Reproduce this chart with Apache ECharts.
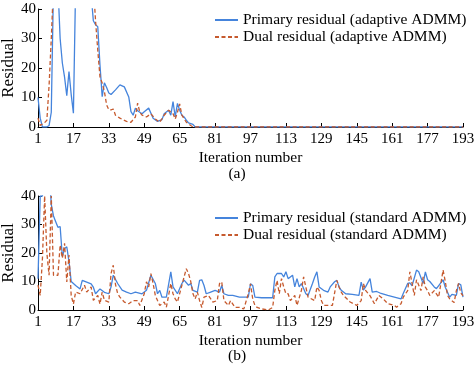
<!DOCTYPE html>
<html><head><meta charset="utf-8">
<script src="https://cdn.jsdelivr.net/npm/echarts@6/dist/echarts.min.js"></script>
<style>html,body{margin:0;padding:0;background:#fff}#c{width:474px;height:366px}</style>
</head><body><div id="c"></div>
<script>
// x-axis tick labels (iteration numbers)
const xTicks = [1,17,33,49,65,81,97,113,129,145,161,177,193];
const yTicks = [0,10,20,30,40];

// (a) adaptive ADMM
const adaptPrimIter = [1,2,3,4,5,6,7,8,10,11,12,13,14,15,16,17,18,25,26,27,28,29,30,31,32,33,34,36,38,40,42,43,44,45,46,48,49,51,53,55,57,58,60,61,62,63,64,65,66,67,68,69,71,72,193];
const adaptPrimVal  = [10,3,0,0,0,0.5,5,48,48,30,21.7,16.9,10.6,18.8,11,4.7,48,45,36,34.7,34,21,10.3,15,13.4,11.5,11,12.6,14.3,13.6,10.2,5.2,4,6.4,5.5,4.5,5.2,6.4,3,1.9,2.5,4.5,5.7,4,8.6,3.4,8,5.7,4,3.4,2.3,1.4,0.9,0,0];
const adaptDualIter = [1,2,3,4,5,6,7,8,26,27,28,29,30,31,32,33,34,35,36,38,41,43,45,46,47,48,50,52,54,56,58,60,62,63,64,65,66,68,70,71,193];
const adaptDualVal  = [3,0.5,1,1.5,2.3,14,30,48,48,36,26,17,14.9,12,7.5,5.8,5.8,6.1,4,3,1.9,1.6,3.4,8.1,5,4,3.4,4.5,2.7,1.6,4,5.7,4.5,2.7,5,7.8,4,1.6,0.5,0,0];

// (b) standard ADMM
const stdPrimIter = [1,2,3,4,6,7,8,9,10,11,
  12,13,14,15,16,18,20,21,23,25,
  26,27,29,31,33,34,35,37,39,41,
  43,45,48,50,52,54,55,56,57,59,
  61,62,64,66,67,69,70,71,73,74,
  75,76,77,79,81,83,84,85,87,89,
  92,96,97,98,99,102,107,108,109,111,
  112,113,114,116,117,118,119,120,122,123,
  125,126,127,128,130,132,133,135,136,137,
  138,140,143,146,147,148,149,151,152,154,
  156,159,162,165,166,168,169,170,172,173,
  175,176,177,178,180,181,184,185,187,188,
  190,191,192,193];
const stdPrimVal = [11,40,40,50,50,37,33,31,29,29.3,
  18.7,21.6,22.2,17,10,8.6,7.4,10.4,9.8,9.2,
  8,5.7,7.4,6.2,5.7,8.1,12.2,9.3,7,6.3,
  5.7,6.3,5.7,6.9,12.2,9.3,5.7,6.9,4.5,4.5,
  13.4,8.1,5.7,9.3,10.5,8.7,9.3,6.9,6.3,10.4,
  10.6,8.6,5.7,6.3,6.9,6.3,8.6,5.7,5.1,5.1,
  4.5,4.5,9.2,8.6,4.5,4.3,4.3,11.6,12.8,12.8,
  11.6,13.4,11,12.2,8.1,11,8.1,9.3,5.7,5.1,
  9.3,11.6,13.4,8.1,6.9,6.3,8.1,9.9,10.4,8.1,
  6.9,5.7,5.5,5.1,9.8,7,8.1,11,6.3,6.5,
  5.8,5.1,4.5,3.9,5.8,9.3,9.5,8.5,14,13.4,
  9.3,13.4,10.6,10,8.1,7.5,10.6,8,4.5,5.5,
  5.1,9.3,8.8,4.5];
const stdDualIter = [1,2,3,4,5,6,7,8,10,11,
  12,13,14,15,16,17,18,20,22,23,
  25,26,28,29,30,31,33,34,35,36,
  37,38,40,42,44,46,47,49,50,51,
  52,53,54,55,56,58,59,61,62,63,
  64,67,68,69,70,71,72,73,74,75,
  76,78,80,82,83,84,85,87,88,90,
  92,94,96,97,98,99,100,102,105,107,
  108,109,110,111,112,113,114,115,117,118,
  120,121,122,123,126,127,128,129,130,134,
  136,137,138,139,142,145,147,148,149,151,
  153,155,157,159,162,163,165,166,168,169,
  170,171,172,174,175,176,177,178,180,182,
  184,185,186,187,189,190,191,192,193];
const stdDualVal = [8.7,5.1,18,40,20,12.2,40,12.2,12.2,22.8,
  18.2,23.4,9.8,19.3,5.1,2.1,6.3,5.7,8.7,6.3,
  8.1,3.4,5.1,2.1,6.3,3.4,2.8,12.8,15.7,9,
  5.7,4.5,2.8,2.2,3.3,3.3,1.6,5.7,9.9,8.1,
  12.8,9.3,5.1,3.3,1.6,2.8,1,9.3,5.7,3.9,
  2.8,11.6,14.5,12.8,10,5.7,3.9,6.3,3.3,0.9,
  4.5,5.1,2.8,3.3,9.3,9.9,3.3,1.6,3.3,0.9,
  0.9,0.4,5.7,9.2,3.9,1.6,0.9,0.4,0,0.9,
  6.9,10.4,5.7,11,8.1,5.7,5.7,3.3,5.1,1.6,
  6.9,11.6,8.1,4.5,3.3,8.1,6.9,3.3,1.6,1.6,
  10.4,8.1,6.3,5.1,2.8,1.6,3.3,9.3,6.9,5,
  2.2,5.1,3.9,2.2,1.6,1,2.2,4.5,6.8,13.4,
  9.3,5.1,10.6,6.8,11.6,8,6.8,5.1,6.8,4.5,
  14,10,5.1,3.9,2.6,6.8,9.3,6,5];

const names = {
  ap: 'Primary residual (adaptive ADMM)',
  ad: 'Dual residual (adaptive ADMM)',
  sp: 'Primary residual (standard ADMM)',
  sd: 'Dual residual (standard ADMM)'
};

const FONT = 'Liberation Serif';
const BLUE = '#4584dc';
const RED = '#c65a2e';

function pts(iters, vals) { return iters.map((it, i) => [it - xTicks[0], vals[i]]); }

const xStep = xTicks[1] - xTicks[0];
function xAxis(gi) {
  return {
    gridIndex: gi, type: 'value', min: 0, max: xTicks[xTicks.length - 1] - xTicks[0], interval: xStep,
    name: 'Iteration number', nameLocation: 'middle', nameGap: 23, nameMoveOverlap: false,
    nameTextStyle: { fontFamily: FONT, fontSize: 15.5, color: '#000' },
    axisLine: { lineStyle: { color: '#000', width: 1 } },
    axisTick: { inside: true, length: 4, lineStyle: { color: '#000' } },
    axisLabel: { fontFamily: FONT, fontSize: 15, color: '#000', margin: 5,
      formatter: v => String(v + xTicks[0]) },
    splitLine: { show: false }
  };
}
function yAxis(gi) {
  return {
    gridIndex: gi, type: 'value', min: yTicks[0], max: yTicks[yTicks.length - 1], interval: yTicks[1] - yTicks[0],
    name: 'Residual', nameLocation: 'middle', nameGap: 21, nameMoveOverlap: false,
    nameTextStyle: { fontFamily: FONT, fontSize: 17, color: '#000' },
    axisLine: { show: true, lineStyle: { color: '#000', width: 1 } },
    axisTick: { show: true, inside: true, length: 4, lineStyle: { color: '#000' } },
    axisLabel: { fontFamily: FONT, fontSize: 15, color: '#000', margin: 2 },
    splitLine: { show: false }
  };
}
function line(name, gi, iters, vals, color, dashed) {
  return {
    name, type: 'line', xAxisIndex: gi, yAxisIndex: gi, data: pts(iters, vals),
    symbol: 'none', clip: true, silent: true,
    lineStyle: { color, width: 1.3, type: dashed ? [4, 2.5] : 'solid' },
    itemStyle: { color }
  };
}
function legend(top, d) {
  return {
    data: d, orient: 'vertical', left: 214, top, padding: 0,
    itemWidth: 23, itemHeight: 10, itemGap: 1,
    itemStyle: { opacity: 0 },
    textStyle: { fontFamily: FONT, fontSize: 15.5, color: '#000', lineHeight: 16 }
  };
}

const chart = echarts.init(document.getElementById('c'), null, { renderer: 'canvas' });
chart.setOption({
  animation: false,
  backgroundColor: '#fff',
  grid: [
    { left: 38, right: 11, top: 9, height: 118, outerBoundsMode: 'none', containLabel: false },
    { left: 38, right: 11, top: 196, height: 114, outerBoundsMode: 'none', containLabel: false }
  ],
  xAxis: [xAxis(0), xAxis(1)],
  yAxis: [yAxis(0), yAxis(1)],
  legend: [legend(12, [names.ap, names.ad]), legend(210, [names.sp, names.sd])],
  series: [
    line(names.ap, 0, adaptPrimIter, adaptPrimVal, BLUE, false),
    line(names.ad, 0, adaptDualIter, adaptDualVal, RED, true),
    line(names.sp, 1, stdPrimIter, stdPrimVal, BLUE, false),
    line(names.sd, 1, stdDualIter, stdDualVal, RED, true)
  ],
  graphic: [
    { type: 'text', left: 'center', top: 166, style: { text: '(a)', font: '15.5px "' + FONT + '"', fill: '#000' } },
    { type: 'text', left: 'center', top: 348, style: { text: '(b)', font: '15.5px "' + FONT + '"', fill: '#000' } }
  ]
});
</script>
</body></html>
